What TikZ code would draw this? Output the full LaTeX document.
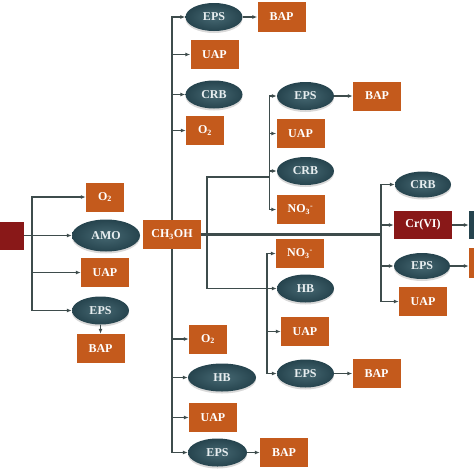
\documentclass[tikz,border=0pt]{standalone}
\usepackage{fontspec}
\setmainfont{Liberation Serif}
\usetikzlibrary{shapes.geometric,arrows.meta,shadows}
\definecolor{boxorange}{RGB}{196,90,28}
\definecolor{boxred}{RGB}{137,24,24}
\definecolor{tealin}{RGB}{70,104,114}
\definecolor{tealout}{RGB}{38,68,78}
\definecolor{linkgray}{RGB}{62,76,76}
\definecolor{elltext}{RGB}{232,238,240}
\begin{document}
\begin{tikzpicture}[x=1pt,y=-1pt,
    font=\fontsize{12}{14}\selectfont\bfseries,
    obox/.style={rectangle, fill=boxorange, text=white, minimum width=48pt, minimum height=29pt, inner sep=0pt},
    rbox/.style={obox, fill=boxred},
    tell/.style={ellipse, inner color=tealin, outer color=tealout, text=elltext, minimum width=57pt, minimum height=28pt, inner sep=0pt,
        drop shadow={shadow xshift=0pt, shadow yshift=-2pt, opacity=0.3}},
    link/.style={draw=linkgray, line width=1.1pt, -{Latex[length=5pt,width=4pt]}},
    trunk/.style={draw=linkgray, line width=2.2pt}]
    \useasboundingbox (0,0) rectangle (474,474);

    % Source and left branch
    \node[rbox, minimum width=66pt, minimum height=28pt, anchor=east] (src) at (24,235.5) {};
    \node[obox, minimum width=38pt] (o2a) at (105,197) {O\textsubscript{2}};
    \node[tell, minimum width=68pt, minimum height=32pt] (amo) at (106,235.5) {AMO};
    \node[obox] (uapa) at (105,272.5) {UAP};
    \node[tell] (epsa) at (100.5,310.5) {EPS};
    \node[obox] (bapa) at (100.5,348.5) {BAP};
    \coordinate (jl) at (32,235.5);
    \draw[link] (src.east) -- (amo.west);
    \draw[link] (jl) |- (o2a);
    \draw[link] (jl) |- (uapa);
    \draw[link] (jl) |- (epsa);
    \draw[link] (epsa) -- (bapa);

    % Methanol trunk
    \node[obox, minimum width=58pt] (ch3oh) at (172,234.5) {CH\textsubscript{3}OH};

    % Upper stack
    \node[tell] (epsb) at (214,17) {EPS};
    \node[obox, minimum height=30pt] (bapb) at (281.5,17) {BAP};
    \node[obox] (uapb) at (214.5,54.5) {UAP};
    \node[tell] (crbb) at (214,94.5) {CRB};
    \node[obox, minimum width=38pt] (o2b) at (205,130.5) {O\textsubscript{2}};
    \draw[link] (ch3oh.north) |- (epsb);
    \draw[link] (ch3oh.north) |- (uapb);
    \draw[link] (ch3oh.north) |- (crbb);
    \draw[link] (ch3oh.north) |- (o2b);
    \draw[link] (epsb) -- (bapb);

    % Lower stack
    \node[obox, minimum width=38pt] (o2c) at (208,339) {O\textsubscript{2}};
    \node[tell, minimum width=68pt] (hbc) at (222,377.5) {HB};
    \node[obox] (uapc) at (213,417.5) {UAP};
    \node[tell, minimum width=59pt] (epsc) at (217.5,452.5) {EPS};
    \node[obox] (bapc) at (284,452.5) {BAP};
    \draw[link] (ch3oh.south) |- (o2c);
    \draw[link] (ch3oh.south) |- (hbc);
    \draw[link] (ch3oh.south) |- (uapc);
    \draw[link] (ch3oh.south) |- (epsc);
    \draw[link] (epsc) -- (bapc);

    % Middle branches
    \coordinate (jm) at (207,234.5);
    \coordinate (ju) at (269.5,177);
    \coordinate (jd) at (267,288.5);
    \node[tell] (epsd) at (305.5,96) {EPS};
    \node[obox] (bapd) at (377,96) {BAP};
    \node[obox] (uapd) at (300.5,133.5) {UAP};
    \node[tell] (crbd) at (305.5,171) {CRB};
    \node[obox] (no3d) at (300.5,209.5) {NO\textsubscript{3}\textsuperscript{-}};
    \node[obox] (no3e) at (300,253.5) {NO\textsubscript{3}\textsuperscript{-}};
    \node[tell] (hbe) at (305.5,288.5) {HB};
    \node[obox] (uape) at (305,331.5) {UAP};
    \node[tell] (epse) at (305.5,373.5) {EPS};
    \node[obox] (bape) at (376.5,373.5) {BAP};
    \draw[draw=linkgray, line width=1.1pt] (jm) |- (ju);
    \draw[link] (ju) |- (epsd);
    \draw[link] (ju) |- (uapd);
    \draw[link] (ju) |- (crbd);
    \draw[link] (ju) |- (no3d);
    \draw[link] (epsd) -- (bapd);
    \draw[link] (jm) |- (hbe);
    \draw[link] (jd) |- (no3e);
    \draw[link] (jd) |- (uape);
    \draw[link] (jd) |- (epse);
    \draw[link] (epse) -- (bape);

    % Right branch
    \coordinate (jr) at (381,234.5);
    \draw[trunk] (ch3oh.east) -- (jr);
    \node[tell, minimum width=56pt, minimum height=26pt] (crbf) at (423,184.5) {CRB};
    \node[rbox, minimum width=58pt, minimum height=28pt] (crf) at (423,225) {Cr(VI)};
    \node[tell, minimum width=56pt, minimum height=26pt] (epsf) at (422,266) {EPS};
    \node[obox] (uapf) at (423,301.5) {UAP};
    \node[rectangle, fill=tealout, minimum width=48pt, minimum height=28pt] (crg) at (493,225) {};
    \node[obox, minimum height=30pt] (bapf) at (493,263) {};
    \draw[link] (jr) |- (crbf);
    \draw[link] (jr) |- (crf);
    \draw[link] (jr) |- (epsf);
    \draw[link] (jr) |- (uapf);
    \draw[link] (crf) -- (crg);
    \draw[link] (epsf.east) -- (epsf.east -| bapf.west);
\end{tikzpicture}
\end{document}
